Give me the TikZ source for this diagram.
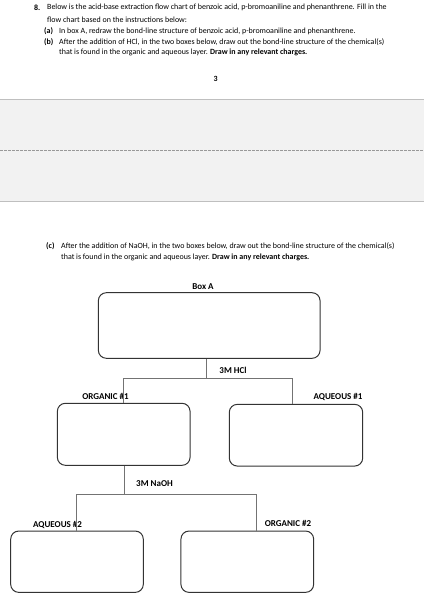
\documentclass[tikz,border=0pt]{standalone}
\usepackage{fontspec}
\setmainfont{Carlito}
\usepackage{tikz}

\begin{document}
\begin{tikzpicture}[x=1pt, y=-1pt,
    txt/.style={anchor=west, inner sep=0pt, font=\fontsize{7.95}{9}\selectfont},
    lbl/.style={inner sep=0pt, font=\fontsize{9}{10}\selectfont\bfseries},
    box/.style={draw=black!80, line width=1pt, rounded corners=8pt, inner sep=0pt},
    link/.style={draw=black!55, line width=0.9pt}]
  \useasboundingbox (0,0) rectangle (424,600);

  % Question text
  \node[txt] (qnum) at (34,7.3) {\textbf{8.}};
  \node[txt] (q1) at (47,7.3) {Below is the acid-base extraction flow chart of benzoic acid, p-bromoaniline and phenanthrene. Fill in the};
  \node[txt] (q2) at (47,19.3) {flow chart based on the instructions below:};
  \node[txt] (pa) at (44,31) {\textbf{(a)}};
  \node[txt] (pa1) at (59,31) {In box A, redraw the bond-line structure of benzoic acid, p-bromoaniline and phenanthrene.};
  \node[txt] (pb) at (44,41.7) {\textbf{(b)}};
  \node[txt] (pb1) at (59,41.7) {After the addition of HCl, in the two boxes below, draw out the bond-line structure of the chemical(s)};
  \node[txt] (pb2) at (59,52.7) {that is found in the organic and aqueous layer. \textbf{Draw in any relevant charges.}};
  \node[txt, anchor=center] (page) at (215.7,79) {\textbf{3}};

  % Page break
  \fill[black!5] (0,99) rectangle (424,201);
  \draw[black!25, line width=0.8pt] (0,99) -- (424,99);
  \draw[black!25, line width=0.8pt] (0,201) -- (424,201);
  \draw[black!40, line width=0.5pt, dash pattern=on 2.5pt off 1.5pt] (0,150.7) -- (424,150.7);

  \node[txt] (pc) at (46,246) {\textbf{(c)}};
  \node[txt] (pc1) at (61,246) {After the addition of NaOH, in the two boxes below, draw out the bond-line structure of the chemical(s)};
  \node[txt] (pc2) at (61,257) {that is found in the organic and aqueous layer. \textbf{Draw in any relevant charges.}};

  % Box A
  \node[lbl] (boxAlbl) at (203,286.7) {Box A};
  \node[box, minimum width=221.7pt, minimum height=65.6pt] (boxA) at (209.2,325.5) {};

  % after HCl
  \node[box, minimum width=132.7pt, minimum height=62pt] (org1) at (123.7,434.3) {};
  \node[box, minimum width=133.4pt, minimum height=61.7pt] (aq1) at (296,435.2) {};
  \node[lbl] (org1lbl) at (105.5,396.7) {ORGANIC \#1};
  \node[lbl] (aq1lbl) at (338,397) {AQUEOUS \#1};
  \node[lbl] (hcllbl) at (233,370) {3M HCl};

  \coordinate (hcl) at (206,378.3);
  \coordinate (hclL) at (123.3,378.3);
  \coordinate (hclR) at (292.3,378.3);
  \draw[link] (boxA.south -| hcl) -- (hcl);
  \draw[link] (org1.north -| hclL) |- (hclR) -- (aq1.north -| hclR);

  % after NaOH
  \node[box, minimum width=132.6pt, minimum height=61.3pt] (aq2) at (77,561.7) {};
  \node[box, minimum width=132.7pt, minimum height=61.3pt] (org2) at (247.3,561.7) {};
  \node[lbl] (aq2lbl) at (57.5,524.7) {AQUEOUS \#2};
  \node[lbl] (org2lbl) at (288,523.7) {ORGANIC \#2};
  \node[lbl] (naohlbl) at (154.5,484) {3M NaOH};

  \coordinate (naoh) at (124,494.3);
  \coordinate (naohL) at (76,494.3);
  \coordinate (naohR) at (256,494.3);
  \draw[link] (org1.south -| naoh) -- (naoh);
  \draw[link] (aq2.north -| naohL) |- (naohR) -- (org2.north -| naohR);
\end{tikzpicture}
\end{document}
